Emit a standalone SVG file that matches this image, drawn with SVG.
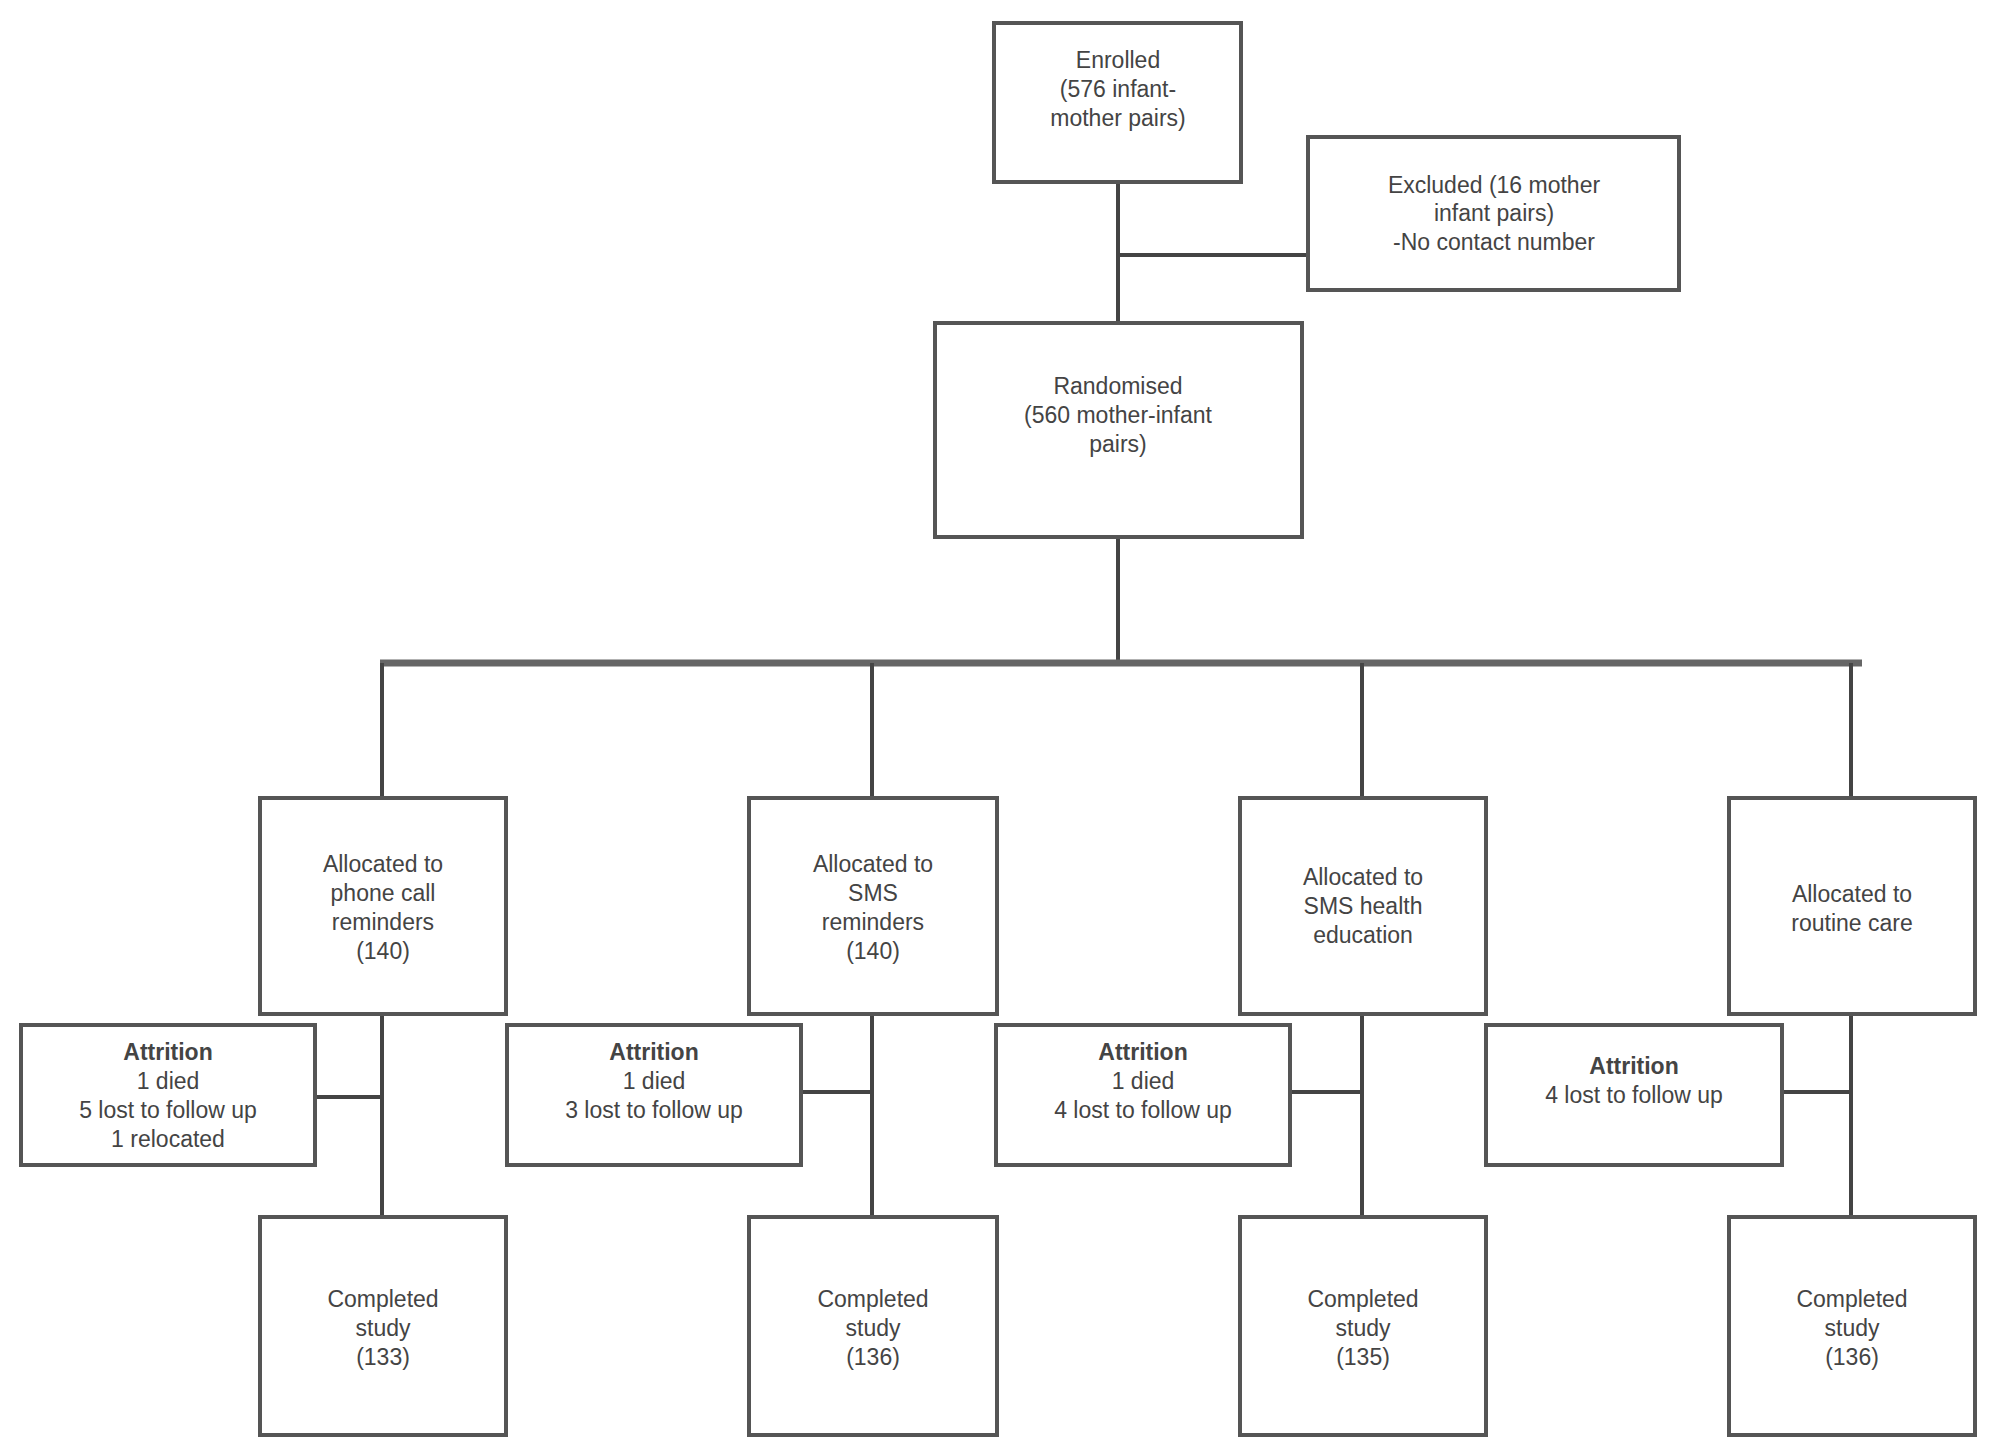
<svg xmlns="http://www.w3.org/2000/svg" width="1994" height="1440" viewBox="0 0 1994 1440">
<style>
rect{fill:#fff;stroke:#555;stroke-width:4}
text{font-family:"Liberation Sans",Arial,sans-serif;font-size:23px;fill:#444;text-anchor:middle}
.b{font-weight:bold}
#connectors line{stroke:#444;stroke-width:4}
</style>
<rect x="0" y="0" width="1994" height="1440" style="stroke:none"/>
<g id="connectors">
<line x1="1118" y1="182" x2="1118" y2="323"/>
<line x1="1118" y1="255" x2="1308" y2="255"/>
<line x1="1118" y1="537" x2="1118" y2="663"/>
<line x1="380" y1="663" x2="1862" y2="663" style="stroke:#666;stroke-width:7"/>
<line x1="382" y1="663" x2="382" y2="1217"/>
<line x1="872" y1="663" x2="872" y2="1217"/>
<line x1="1362" y1="663" x2="1362" y2="1217"/>
<line x1="1851" y1="663" x2="1851" y2="1217"/>
<line x1="315" y1="1097" x2="382" y2="1097"/>
<line x1="801" y1="1092" x2="872" y2="1092"/>
<line x1="1290" y1="1092" x2="1362" y2="1092"/>
<line x1="1782" y1="1092" x2="1851" y2="1092"/>
</g>
<g id="enrolled"><rect x="994" y="23" width="247" height="159"/><text x="1118" y="68">Enrolled</text><text x="1118" y="97">(576 infant-</text><text x="1118" y="126">mother pairs)</text></g>
<g id="excluded"><rect x="1308" y="137" width="371" height="153"/><text x="1494" y="193">Excluded (16 mother</text><text x="1494" y="221">infant pairs)</text><text x="1494" y="250">-No contact number</text></g>
<g id="randomised"><rect x="935" y="323" width="367" height="214"/><text x="1118" y="394">Randomised</text><text x="1118" y="423">(560 mother-infant</text><text x="1118" y="452">pairs)</text></g>
<g id="alloc1"><rect x="260" y="798" width="246" height="216"/><text x="383" y="872">Allocated to</text><text x="383" y="901">phone call</text><text x="383" y="930">reminders</text><text x="383" y="959">(140)</text></g>
<g id="alloc2"><rect x="749" y="798" width="248" height="216"/><text x="873" y="872">Allocated to</text><text x="873" y="901">SMS</text><text x="873" y="930">reminders</text><text x="873" y="959">(140)</text></g>
<g id="alloc3"><rect x="1240" y="798" width="246" height="216"/><text x="1363" y="885">Allocated to</text><text x="1363" y="914">SMS health</text><text x="1363" y="943">education</text></g>
<g id="alloc4"><rect x="1729" y="798" width="246" height="216"/><text x="1852" y="902">Allocated to</text><text x="1852" y="931">routine care</text></g>
<g id="attr1"><rect x="21" y="1025" width="294" height="140"/><text class="b" x="168" y="1060">Attrition</text><text x="168" y="1089">1 died</text><text x="168" y="1118">5 lost to follow up</text><text x="168" y="1147">1 relocated</text></g>
<g id="attr2"><rect x="507" y="1025" width="294" height="140"/><text class="b" x="654" y="1060">Attrition</text><text x="654" y="1089">1 died</text><text x="654" y="1118">3 lost to follow up</text></g>
<g id="attr3"><rect x="996" y="1025" width="294" height="140"/><text class="b" x="1143" y="1060">Attrition</text><text x="1143" y="1089">1 died</text><text x="1143" y="1118">4 lost to follow up</text></g>
<g id="attr4"><rect x="1486" y="1025" width="296" height="140"/><text class="b" x="1634" y="1074">Attrition</text><text x="1634" y="1103">4 lost to follow up</text></g>
<g id="comp1"><rect x="260" y="1217" width="246" height="218"/><text x="383" y="1307">Completed</text><text x="383" y="1336">study</text><text x="383" y="1365">(133)</text></g>
<g id="comp2"><rect x="749" y="1217" width="248" height="218"/><text x="873" y="1307">Completed</text><text x="873" y="1336">study</text><text x="873" y="1365">(136)</text></g>
<g id="comp3"><rect x="1240" y="1217" width="246" height="218"/><text x="1363" y="1307">Completed</text><text x="1363" y="1336">study</text><text x="1363" y="1365">(135)</text></g>
<g id="comp4"><rect x="1729" y="1217" width="246" height="218"/><text x="1852" y="1307">Completed</text><text x="1852" y="1336">study</text><text x="1852" y="1365">(136)</text></g>
</svg>
